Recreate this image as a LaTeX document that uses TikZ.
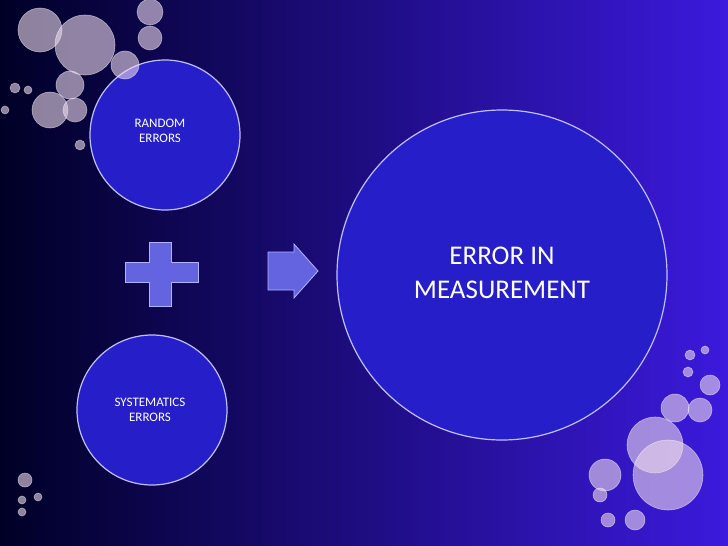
\documentclass[tikz,border=0pt]{standalone}
\usepackage{fontspec}
\setmainfont{Carlito}
\definecolor{cfill}{RGB}{38,30,200}
\definecolor{sfill}{RGB}{100,100,225}
\begin{document}
\begin{tikzpicture}[x=1pt,y=-1pt,
  big/.style={circle,fill=cfill,draw=blue!25!white,line width=1.2pt,inner sep=0pt},
  txt/.style={text=white,align=center},
  bub/.style={fill=violet!15!white,fill opacity=0.6,draw=white,draw opacity=0.5,line width=0.6pt},
  sym/.style={fill=sfill,draw=blue!30!white,line width=0.8pt}]
\shade[left color=black!85!blue,right color=blue!70!violet!90!white] (0,0) rectangle (728,546);
\useasboundingbox (0,0) rectangle (728,546);
\node[big,minimum size=150pt] (r) at (165,135) {};
\node[txt,font=\fontsize{13}{15}\selectfont] (rt) at (160,131) {RANDOM\\ERRORS};
\node[big,minimum size=150pt] (s) at (152,410) {};
\node[txt,font=\fontsize{13}{15}\selectfont] (st) at (150,410) {SYSTEMATICS\\ERRORS};
\node[big,minimum size=330pt] (e) at (502,275) {};
\node[txt,font=\fontsize{27}{34}\selectfont] (et) at (502,273) {ERROR IN\\MEASUREMENT};
\draw[sym] (149,242)--(171,242)--(171,262)--(198,262)--(198,282)--(171,282)--(171,306)--(149,306)--(149,282)--(125,282)--(125,262)--(149,262)--cycle;
\draw[sym] (268,252)--(294,252)--(294,244)--(318,271)--(294,298)--(294,290)--(268,290)--cycle;
\foreach \x/\y/\r in {40/30/22,85/45/30,150/12/13,150/38/12,125/65/14,70/85/14,50/110/18,75/110/12,15/88/5,28/90/4,80/145/5,5/110/4,
 690/355/5,705/350/4,688/372/5,710/385/10,675/408/14,700/410/12,655/445/28,668/475/35,605/475/16,600/495/7,635/520/10,608/520/7,
 25/480/7,22/500/4,38/497/4,22/512/4}
  \draw[bub] (\x,\y) circle (\r);
\end{tikzpicture}
\end{document}
